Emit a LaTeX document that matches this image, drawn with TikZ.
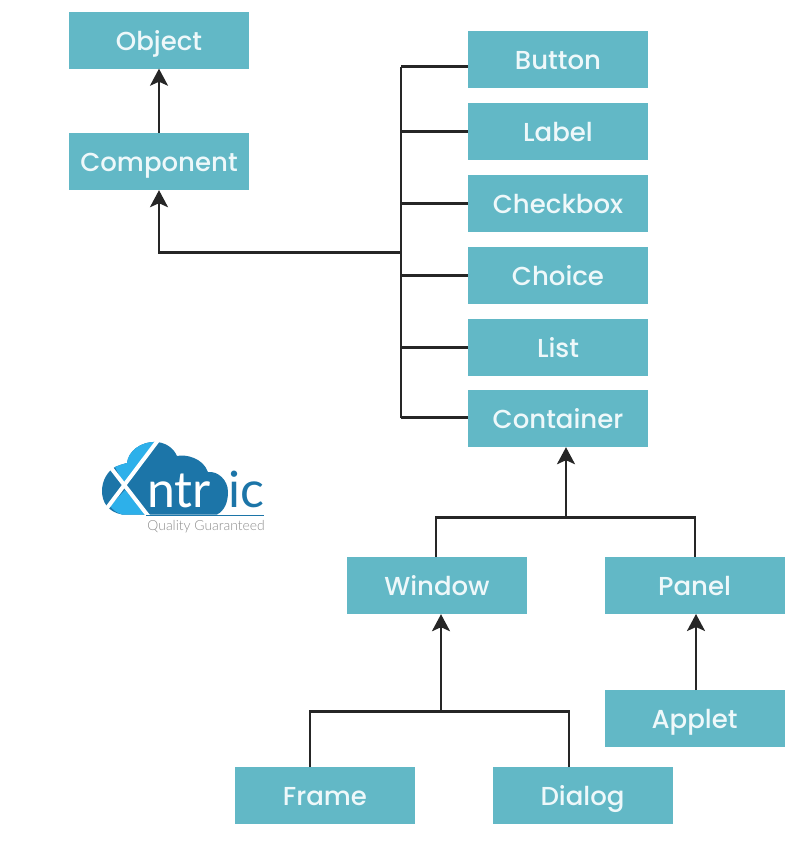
\documentclass[tikz,border=0pt]{standalone}
\usepackage{fontspec}
\setmainfont{Poppins Medium}
\newfontfamily\logofont{Lato}
\newfontfamily\logotagfont{Lato Light}
\usetikzlibrary{arrows.meta}
\definecolor{boxteal}{HTML}{62B8C6}
\definecolor{boxtext}{HTML}{EEF8FA}
\definecolor{logodark}{HTML}{1C75A8}
\definecolor{logolight}{HTML}{2DB0EA}
\tikzset{
  classbox/.style={fill=boxteal, text=boxtext, minimum width=180pt, minimum height=57pt, inner sep=0pt, text height=20pt, text depth=0pt, font=\fontsize{26}{26}\selectfont},
  link/.style={black!85, line width=2.5pt},
  arrow/.style={link, -{Stealth[length=17pt, width=18pt, inset=4pt]}}
}
\begin{document}
\begin{tikzpicture}[x=1pt, y=-1pt]
      \useasboundingbox (0,0) rectangle (800,844);

      % classes
      \node[classbox] (object) at (159,40) {Object};
      \node[classbox] (component) at (159,161.5) {Component};
      \node[classbox] (button) at (558,59.5) {Button};
      \node[classbox] (label) at (558,131.5) {Label};
      \node[classbox] (checkbox) at (558,203.5) {Checkbox};
      \node[classbox] (choice) at (558,275.5) {Choice};
      \node[classbox] (list) at (558,347.5) {List};
      \node[classbox] (container) at (558,418.5) {Container};
      \node[classbox] (window) at (437,585.5) {Window};
      \node[classbox] (panel) at (694.5,585.5) {Panel};
      \node[classbox] (applet) at (694.5,718.5) {Applet};
      \node[classbox] (frame) at (325,795.5) {Frame};
      \node[classbox] (dialog) at (582.5,795.5) {Dialog};

      % junctions
      \coordinate (bustop) at (401,66.5);
      \coordinate (busbottom) at (401,417.5);
      \coordinate (busmid) at (401,252.5);
      \coordinate (contjoin) at (566,517.5);
      \coordinate (winjoin) at (441,711.5);

      \draw[arrow] (component) -- (object);
      \draw[link] (bustop) -- (busbottom);
      \draw[link] (button.west |- bustop) -- (bustop);
      \foreach \n in {label,checkbox,choice,list} {
        \draw[link] (\n.west) -- (\n.west -| bustop);
      }
      \draw[link] (container.west |- busbottom) -- (busbottom);
      \draw[arrow] (busmid) -| (component.south);

      \draw[arrow] (contjoin) -- (contjoin |- container.south);
      \draw[link] (436,557) coordinate (wintop) |- (contjoin);
      \draw[link] (695,557) coordinate (pantop) |- (contjoin);

      \draw[arrow] (winjoin) -- (winjoin |- window.south);
      \draw[link] (310,767) coordinate (frametop) |- (winjoin);
      \draw[link] (569,767) coordinate (dialogtop) |- (winjoin);

      \draw[arrow] (696,690) coordinate (applettop) -- (696,614) coordinate (panelbottom);

      % logo
      \fill[logodark] (146,514.5) -- (122,514.5)
        .. controls (108,512) and (102,502) .. (102,491)
        .. controls (102,480) and (108,471) .. (115,467)
        .. controls (122,464) and (127,463) .. (127,463)
        .. controls (128,452) and (140,441) .. (157,442)
        .. controls (167,443) and (174,449) .. (177,456)
        .. controls (186,454) and (203,458) .. (208,472)
        .. controls (218,471) and (228,480) .. (228,492)
        .. controls (228,503) and (224,511) .. (217,514.5) -- cycle;
      \fill[logolight] (115,467) .. controls (122,464) and (127,463) .. (127,463)
        .. controls (128,452) and (140,441) .. (157,442) -- (125,486) -- cycle;
      \fill[logolight] (125,490) -- (146,514.5) -- (122,514.5) .. controls (117,513) and (113,510) .. (110,506) -- cycle;
      \draw[white, line width=4pt] (159,439) -- (104,512);
      \draw[white, line width=4pt] (108,464) -- (149,517);
      \draw[logodark, line width=0.8pt] (146,515) -- (264,515);
      \node[white, font=\logofont\fontsize{50}{50}\selectfont, anchor=base west, inner sep=0pt] (logoname) at (147,507) {ntr};
      \node[logodark, font=\logofont\fontsize{50}{50}\selectfont, anchor=base west, inner sep=0pt] (logoend) at (228,507) {ic};
      \node[black!45, font=\logotagfont\fontsize{13.9}{14}\selectfont, anchor=base east, inner sep=0pt] (logotag) at (265,530) {Quality Guaranteed};
    \end{tikzpicture}
\end{document}
